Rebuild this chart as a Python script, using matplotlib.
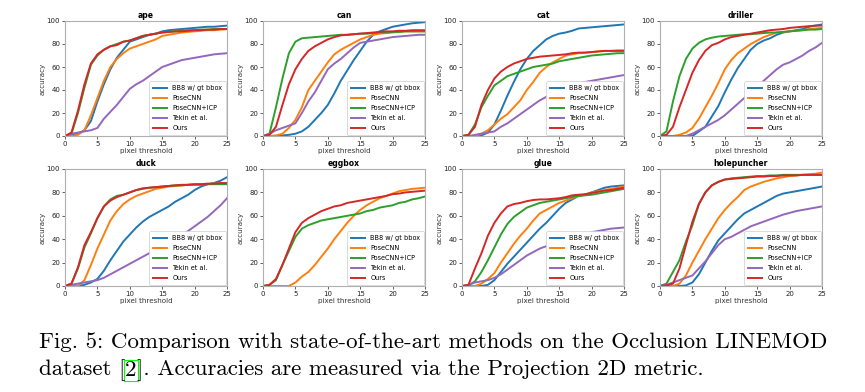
import matplotlib
matplotlib.use("Agg")
import matplotlib.pyplot as plt
from matplotlib.patches import Rectangle

x = list(range(26))
series_names = ["BB8 w/ gt bbox", "PoseCNN", "PoseCNN+ICP", "Tekin et al.", "Ours"]
colors = ["#1f77b4", "#ff7f0e", "#2ca02c", "#9467bd", "#d62728"]
titles = ["ape", "can", "cat", "driller", "duck", "eggbox", "glue", "holepuncher"]

ape_bb8 = [0,1,2,5,13,30,45,58,68,75,82,84,86,88,89,91,92,92.5,93,93.5,94,94.5,95,95,95.5,96]
ape_posecnn = [0,0,1,5,18,33,48,60,67,72,76,78,80,82,84,87,88,89,90,90.5,91,91.5,92,92,92.5,93]
ape_icp = [0,2,20,42,62,70,75,78,80,82,83,85,87,88,89,90,90.5,91,91.5,92,92,92.5,92.5,93,93,93]
ape_tekin = [0,2,3,4,5,7,15,21,27,34,41,45,48,52,56,60,62,64,66,67,68,69,70,71,71.5,72]
ape_ours = [0,3,22,45,63,71,75,78,79,82,83,85,87,88,89,90,90.5,91,91,91.5,92,92,92.5,92.5,93,93]

can_bb8 = [0,0,0,0.5,1,2,4,8,14,20,27,37,48,57,66,74,82,88,91,93,95,96,97,98,98.5,99]
can_posecnn = [0,0,0.5,2,7,14,25,40,48,56,64,71,75,78,81,84,86,88,89,89.5,90,90.5,91,91,91,91]
can_icp = [0,2,25,50,72,82,85,85.5,86,86.5,87,87.5,88,88,88.5,89,89,89.5,90,90,90.5,90.5,91,91,91,91]
can_tekin = [0,2,5,7,9,11,20,30,38,48,58,63,67,72,77,81,82,83,84,85,86,86.5,87,87.5,88,88]
can_ours = [0,1,8,27,45,58,67,74,78,81,84,86,87.5,88,88.5,89,89.5,90,90.5,91,91,91.5,91.5,92,92,92]

cat_bb8 = [0,0,0,0.5,3,10,22,35,47,58,67,74,79,84,87,89,90,91.5,93.5,94,94.5,95,95.5,96,96.5,97]
cat_posecnn = [0,0,0,2,5,10,15,19,25,31,40,47,55,60,64,67,70,71,72,72.5,73,73.5,74,74,74.5,74.5]
cat_icp = [0,1,10,25,35,44,48,52,54,56,58,60,61,62,63,65,66,67,68,69,70,70.5,71,71.5,72,72]
cat_tekin = [0,0,1,2,3,4,8,11,15,19,23,27,31,34,37,40,42,44,46,47,48,49,50,51,52,53]
cat_ours = [0,1,8,27,40,50,56,60,63,65,67,68,69,69.5,70,70.5,71,72,72.5,72.5,73,73.5,74,74,74,74]

driller_bb8 = [0,0,0,0,0,0,4,8,17,26,38,49,59,67,75,80,83,85,88,90,91,92,93,95,96,97]
driller_posecnn = [0,0,0,1,3,7,15,25,35,46,58,66,72,76,80,83,86,88,90,90.5,91,91.5,92,93,93.5,94]
driller_icp = [0,4,30,52,67,76,81,84,85.5,86.5,87,87.5,88,88.5,88.5,89,89.5,90,90,90.5,91,91.5,92,92.5,92.5,93]
driller_tekin = [0,0,0,0,0,2,5,8,11,14,18,23,28,33,38,43,48,53,58,62,64,67,70,74,77,81]
driller_ours = [0,1,8,25,40,55,66,74,79,81,84,86,87,88,89,90,91,92,92.5,93,94,94.5,95,95.5,96,96]

duck_bb8 = [0,0,0,1,3,6,13,22,30,38,44,50,55,59,62,65,68,72,75,78,82,85,87,88,90,93]
duck_posecnn = [0,0,0,5,18,32,44,56,64,70,74,77,79,81,83,84,85,85.5,86,86.5,87,87,87,87.5,87.5,87.5]
duck_icp = [0,2,15,33,45,58,68,74,77,78,80,82,83,84,84.5,85,85.5,86,86,86.5,86.5,86.5,87,87,87,87]
duck_tekin = [0,1,2,3,4,5,7,10,13,16,19,22,25,28,31,34,37,40,43,47,51,55,59,64,69,75]
duck_ours = [0,2,16,35,46,58,68,73,76,78,80,82,83.5,84,84.5,85,85.5,86,86.5,86.5,87,87,87.5,87.5,88,88]

eggbox_bb8 = []
eggbox_posecnn = [0,0,0,0,0,3,8,12,18,25,32,40,47,54,60,65,69,72,75,77,79,81,82,83,83.5,84]
eggbox_icp = [0,1,5,18,30,42,49,52,54,56,57,58,59,60,61,62,64,65,67,68,69,71,72,74,75,76.5]
eggbox_tekin = []
eggbox_ours = [0,1,6,18,32,46,54,58,61,64,66,68,69,71,72,73,74,75,76,77,78.5,79,80,80.5,81,81.5]

glue_bb8 = [0,0,0,0,1,5,12,19,25,31,37,43,49,54,60,66,71,74,77,78,80,82,84,85,85.5,86]
glue_posecnn = [0,0,0,2,6,11,20,28,36,43,49,56,62,65,68,71,73,75,77,78,80,81,82,83,84,85]
glue_icp = [0,0.5,4,12,22,33,44,53,59,63,67,69,71,72,73,74,75,76,77,77.5,78,79,80,81,82,83]
glue_tekin = [0,1,3,4,5,7,10,14,18,22,26,29,32,34,36,38,40,42,43,44,46,47,48,49,49.5,50]
glue_ours = [0,1,15,28,43,54,62,68,70,71,72.5,73.5,74,74,74.5,75,76,77.5,78,78.5,79.5,80.5,81.5,82,83,84]

holepuncher_bb8 = [0,0,0,0,0.5,3,10,20,30,39,45,51,57,62,65,68,71,74,77,79,80,81,82,83,84,85]
holepuncher_posecnn = [0,0,0,2,9,20,30,40,49,58,65,71,76,82,85,87,89,90.5,92,93,94,94.5,95,95.5,96,97]
holepuncher_icp = [0,2,12,22,38,52,70,80,86,89,91,92,92.5,93,93.5,94,94,94.5,94.5,95,95,95,95,95,95,95]
holepuncher_tekin = [0,1,3,5,7,9,15,21,28,35,40,42,45,48,51,53,55,57,59,61,62.5,64,65,66,67,68]
holepuncher_ours = [0,0.5,2,15,35,55,70,80,86,89,91,91.5,92,92.5,93,93.5,93.5,94,94,94.5,94.5,94.5,95,95,95,95]

data = {
    "ape": [ape_bb8, ape_posecnn, ape_icp, ape_tekin, ape_ours],
    "can": [can_bb8, can_posecnn, can_icp, can_tekin, can_ours],
    "cat": [cat_bb8, cat_posecnn, cat_icp, cat_tekin, cat_ours],
    "driller": [driller_bb8, driller_posecnn, driller_icp, driller_tekin, driller_ours],
    "duck": [duck_bb8, duck_posecnn, duck_icp, duck_tekin, duck_ours],
    "eggbox": [eggbox_bb8, eggbox_posecnn, eggbox_icp, eggbox_tekin, eggbox_ours],
    "glue": [glue_bb8, glue_posecnn, glue_icp, glue_tekin, glue_ours],
    "holepuncher": [holepuncher_bb8, holepuncher_posecnn, holepuncher_icp, holepuncher_tekin, holepuncher_ours],
}

caption1 = "Fig. 5: Comparison with state-of-the-art methods on the Occlusion LINEMOD"
caption2a = "dataset ["
caption2b = "2"
caption2c = "]. Accuracies are measured via the Projection 2D metric."

W, H = 865, 392
fig = plt.figure(figsize=(W / 100, H / 100), dpi=100)

lefts = [65, 263, 462, 660]
row_tb = [(21, 136), (169, 286)]
width_px = 162

for i, name in enumerate(titles):
    r, c = divmod(i, 4)
    top, bot = row_tb[r]
    ax = fig.add_axes([lefts[c] / W, 1 - bot / H, width_px / W, (bot - top) / H])
    for ys, col, lab in zip(data[name], colors, series_names):
        if len(ys) == len(x):
            ax.plot(x, ys, color=col, lw=1.4, label=lab)
        else:
            ax.plot([], [], color=col, lw=1.4, label=lab)
    ax.set_xlim(0, 25)
    ax.set_ylim(0, 100)
    ax.set_xticks([0, 5, 10, 15, 20, 25])
    ax.set_yticks([0, 20, 40, 60, 80, 100])
    ax.tick_params(labelsize=5.0, length=2, width=0.5, pad=1.5, colors="#222222")
    for sp in ax.spines.values():
        sp.set_color("#b0b0b0")
        sp.set_linewidth(0.8)
    ax.set_title(name, fontsize=5.5, fontweight="bold", pad=2.5)
    ax.set_xlabel("pixel threshold", fontsize=5.1, labelpad=1, color="#333333")
    ax.set_ylabel("accuracy", fontsize=5.1, labelpad=1, color="#333333")
    leg = ax.legend(loc="lower right", fontsize=4.7, handlelength=2.15, labelspacing=0.63,
                    borderpad=0.55, handletextpad=0.8, framealpha=1, fancybox=True,
                    borderaxespad=0.15)
    leg.get_frame().set_linewidth(0.5)
    leg.get_frame().set_edgecolor("#cccccc")

capfont = dict(family="cmr10", fontsize=14, color="black")
x0 = 39
y1 = 1 - 348 / H
y2 = 1 - 375.5 / H
t1 = fig.text(x0 / W, y1, caption1, va="baseline", ha="left", **capfont)
fig.canvas.draw()
rend = fig.canvas.get_renderer()
e1 = t1.get_window_extent(rend)
fs = 14 * (830 - x0) / e1.width
t1.set_fontsize(fs)
capfont["fontsize"] = fs

ta = fig.text(x0 / W, y2, caption2a, va="baseline", ha="left", **capfont)
fig.canvas.draw()
ea = ta.get_window_extent(rend)
tb = fig.text(ea.x1 / W, y2, caption2b, va="baseline", ha="left", **capfont)
fig.canvas.draw()
eb = tb.get_window_extent(rend)
tc = fig.text(eb.x1 / W, y2, caption2c, va="baseline", ha="left", **capfont)
base_px = y2 * H
fig.add_artist(Rectangle(((eb.x0 - 1) / W, (base_px - 5) / H), (eb.width + 2) / W, 21 / H,
                         transform=fig.transFigure, fill=False, edgecolor="#00ff00", lw=0.8))

fig.savefig("out.png", dpi=100)
